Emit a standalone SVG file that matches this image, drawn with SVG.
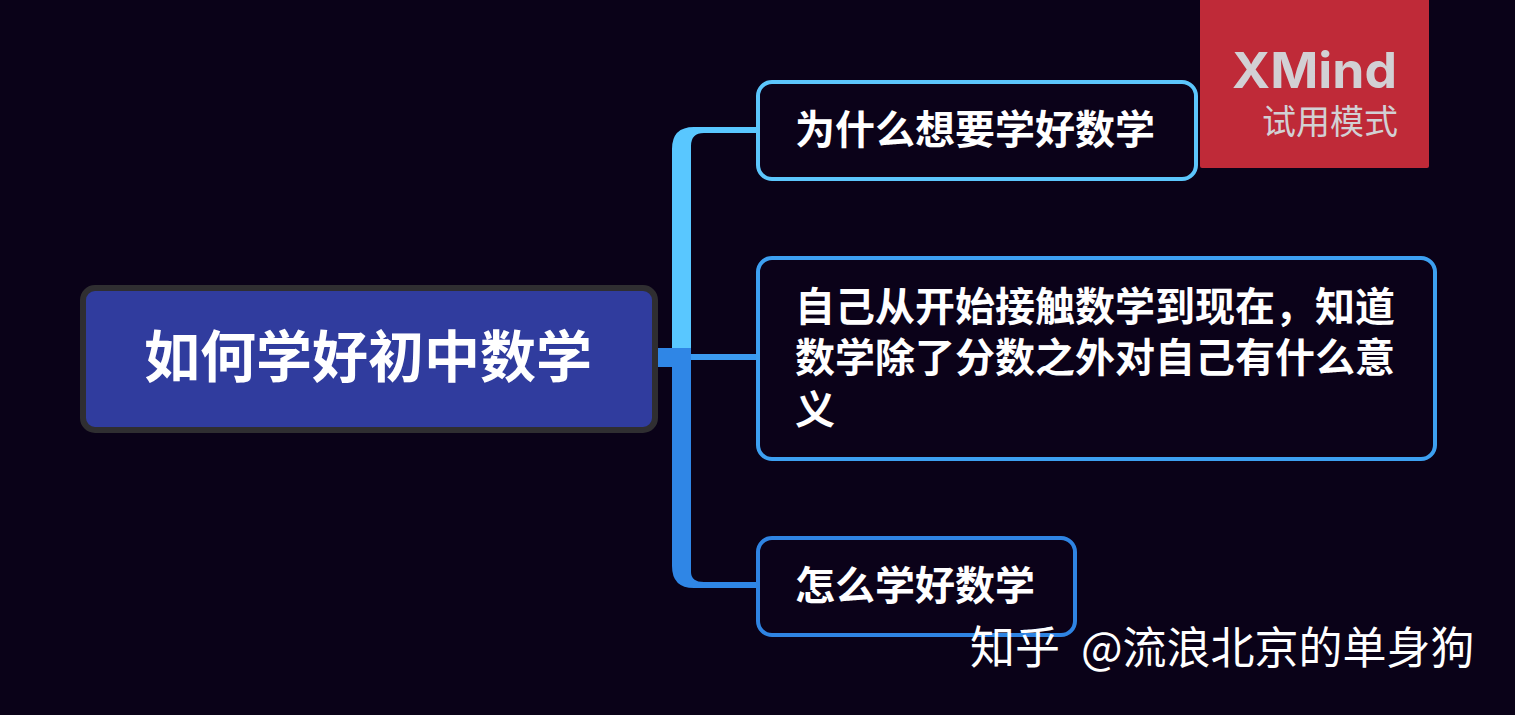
<svg xmlns="http://www.w3.org/2000/svg" width="1515" height="715" viewBox="0 0 1515 715">
<style>
text{font-family:"Noto Sans CJK SC","Liberation Sans",sans-serif}
.t{font-size:40px;font-weight:700;fill:#fff}
.box{fill:#0b0219;stroke-width:4}
</style>
<rect width="1515" height="715" fill="#0a0218"/>
<g id="connectors">
<path d="M691 348V146Q691 133 704 133H757V127H694Q672 127 672 149V348Z" fill="#59c7ff"/>
<path d="M691 367V572Q691 582 704 582H757V588H694Q672 588 672 566V367Z" fill="#2f86e6"/>
<rect x="658" y="348" width="33" height="19" fill="#2f86e6"/>
<rect x="691" y="354" width="66" height="6" fill="#3b9bf0"/>
</g>
<g id="root">
<rect x="83" y="288" width="572" height="142" rx="12" fill="#303c9e" stroke="#2f2e31" stroke-width="6"/>
<text x="368" y="377" text-anchor="middle" font-size="56" font-weight="700" fill="#fff">如何学好初中数学</text>
</g>
<g id="node1">
<rect class="box" x="758" y="82" width="438" height="97" rx="14" stroke="#5cc6fc"/>
<text class="t" x="795" y="144">为什么想要学好数学</text>
</g>
<g id="node2">
<rect class="box" x="758" y="258" width="677" height="201" rx="14" stroke="#3da0f1"/>
<text class="t" x="795" y="321">自己从开始接触数学到现在，知道</text>
<text class="t" x="795" y="372">数学除了分数之外对自己有什么意</text>
<text class="t" x="795" y="424">义</text>
</g>
<g id="node3">
<rect class="box" x="758" y="538" width="317" height="97" rx="14" stroke="#2f84e3"/>
<text class="t" x="795" y="600">怎么学好数学</text>
</g>
<g id="watermark-xmind">
<rect x="1200" y="-6" width="229" height="174" rx="2" fill="#bf2a38"/>
<text x="1232" y="88" font-size="50" font-weight="700" fill="#d2d0d4" textLength="165" lengthAdjust="spacingAndGlyphs" style="font-family:Inter,'Liberation Sans',sans-serif">XMind</text>
<text x="1262" y="134" font-size="34" fill="#d2d0d4">试用模式</text>
</g>
<g id="watermark-zhihu">
<text x="970" y="664" font-size="45" fill="#fff">知乎</text>
<text x="1081" y="664" font-size="44" fill="#fff">@流浪北京的单身狗</text>
</g>
</svg>
